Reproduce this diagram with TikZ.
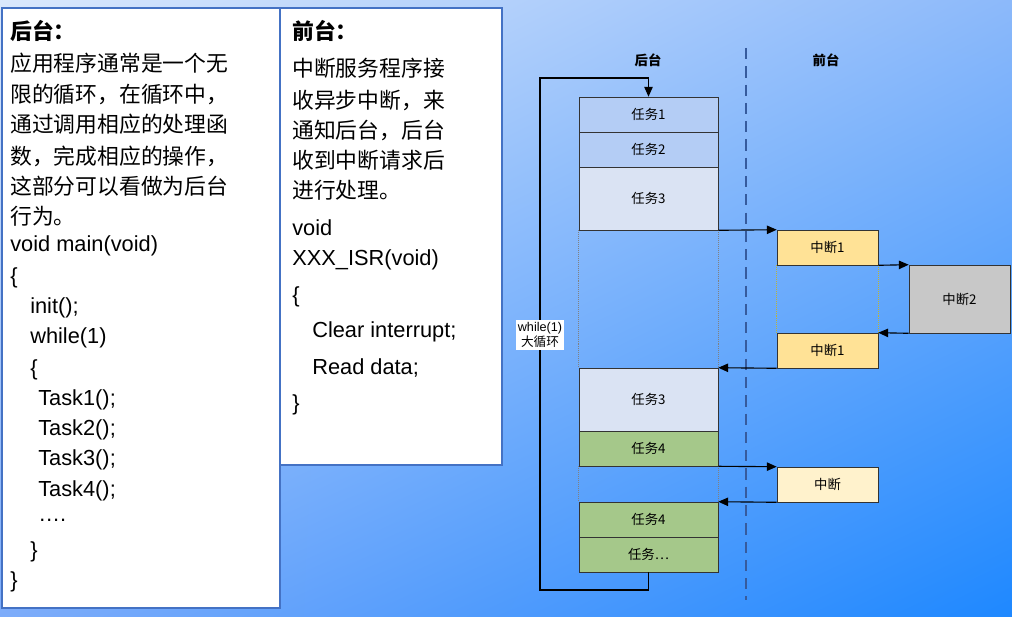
\documentclass[tikz,border=0pt]{standalone}
\usepackage{fontspec}
\setmainfont{Liberation Sans}
\newfontfamily\cjk{Noto Sans CJK SC}
\usetikzlibrary{arrows.meta,shadings}
\definecolor{frameblue}{RGB}{68,114,196}
\definecolor{taskblue}{RGB}{180,205,245}
\definecolor{taskgray}{RGB}{218,227,243}
\definecolor{taskgreen}{RGB}{165,200,138}
\definecolor{irqyellow}{RGB}{255,226,150}
\definecolor{irqlight}{RGB}{255,242,204}
\definecolor{irqgray}{RGB}{200,200,200}
\definecolor{bgUL}{RGB}{218,232,252}
\definecolor{bgUR}{RGB}{140,185,250}
\definecolor{bgLL}{RGB}{125,172,250}
\definecolor{bgLR}{RGB}{30,136,255}
\tikzset{
  px/.style={x=0.025cm,y=-0.025cm},
  txt/.style={anchor=west,inner sep=0pt,font=\fontsize{15.5}{17}\selectfont},
  blk/.style={draw=black!80,thin,inner sep=0pt,minimum width=3.475cm,
    font=\cjk\fontsize{9.5}{11}\selectfont},
  irq/.style={blk,minimum width=2.525cm},
  arr/.style={-{Triangle[length=7pt,width=6pt]},thick},
  gap/.style={densely dotted,thin,black!50}
}
\begin{document}
\begin{tikzpicture}[px]
  % background
  \shade[upper left=bgUL,upper right=bgUR,lower left=bgLL,lower right=bgLR]
    (0,0) rectangle (1012,617);
  \useasboundingbox (0,0) rectangle (1012,617);

  % text panels
  \draw[frameblue,fill=white,line width=1.2pt] (2,8) rectangle (280,608);
  \draw[frameblue,fill=white,line width=1.2pt] (280,8) rectangle (502,465);

  \node[txt] (bgtitle) at (10,31) {\cjk\bfseries 后台：};
  \node[txt] at (10,63) {\cjk 应用程序通常是一个无};
  \node[txt] at (10,94) {\cjk 限的循环，在循环中，};
  \node[txt] at (10,124) {\cjk 通过调用相应的处理函};
  \node[txt] at (10,156) {\cjk 数，完成相应的操作，};
  \node[txt] at (10,186) {\cjk 这部分可以看做为后台};
  \node[txt] at (10,216) {\cjk 行为。};
  \node[txt] at (10,246) {void main(void)};
  \node[txt] at (10,278) {\{};
  \node[txt] at (30,308) {init();};
  \node[txt] at (30,338) {while(1)};
  \node[txt] at (30,370) {\{};
  \node[txt] at (38,400) {Task1();};
  \node[txt] at (38,430) {Task2();};
  \node[txt] at (38,460) {Task3();};
  \node[txt] at (38,491) {Task4();};
  \node[txt] at (38,520) {\dots.};
  \node[txt] at (30,552) {\}};
  \node[txt] at (10,582) {\}};

  \node[txt] (fgtitle) at (292,31) {\cjk\bfseries 前台：};
  \node[txt] at (292,68) {\cjk 中断服务程序接};
  \node[txt] at (292,100) {\cjk 收异步中断，来};
  \node[txt] at (292,130) {\cjk 通知后台，后台};
  \node[txt] at (292,160) {\cjk 收到中断请求后};
  \node[txt] at (292,190) {\cjk 进行处理。};
  \node[txt] at (292,228) {void};
  \node[txt] at (292,260) {XXX\_ISR(void)};
  \node[txt] at (292,297) {\{};
  \node[txt] at (312,332) {Clear interrupt;};
  \node[txt] at (312,368) {Read data;};
  \node[txt] at (292,405) {\}};

  % diagram
  \node[font=\cjk\bfseries\fontsize{9.5}{11}\selectfont] (bghead) at (648,60) {后台};
  \node[font=\cjk\bfseries\fontsize{9.5}{11}\selectfont] (fghead) at (826,60) {前台};
  \draw[frameblue!80!black,thick,dash pattern=on 8pt off 5pt] (746,48) -- (746,600);

  \node[blk,fill=taskblue,minimum height=0.875cm] (t1) at (648.5,114.5) {任务1};
  \node[blk,fill=taskblue,minimum height=0.875cm] (t2) at (648.5,149.5) {任务2};
  \node[blk,fill=taskgray,minimum height=1.575cm] (t3a) at (648.5,198.5) {任务3};
  \node[blk,fill=taskgray,minimum height=1.575cm] (t3b) at (648.5,399.5) {任务3};
  \node[blk,fill=taskgreen,minimum height=0.875cm] (t4a) at (648.5,448.5) {任务4};
  \node[blk,fill=taskgreen,minimum height=0.875cm] (t4b) at (648.5,519.5) {任务4};
  \node[blk,fill=taskgreen,minimum height=0.875cm] (tn) at (648.5,554.5) {任务\dots};

  \node[irq,fill=irqyellow,minimum height=0.875cm] (i1a) at (827.5,247.5) {中断1};
  \node[irq,fill=irqgray,minimum height=1.7cm] (i2) at (959.5,299) {中断2};
  \node[irq,fill=irqyellow,minimum height=0.875cm] (i1b) at (827.5,350.5) {中断1};
  \node[irq,fill=irqlight,minimum height=0.875cm] (ia) at (827.5,484.5) {中断};

  % idle gaps
  \draw[gap] (t3a.south west) -- (t3b.north west);
  \draw[gap] (t3a.south east) -- (t3b.north east);
  \draw[gap] (t4a.south west) -- (t4b.north west);
  \draw[gap] (t4a.south east) -- (t4b.north east);
  \draw[gap,yellow!70!black] (i1a.south west) -- (i1b.north west);
  \draw[gap,yellow!70!black] (i1a.south east) -- (i1b.north east);

  % switches
  \draw[arr] (t3a.south east) -- (i1a.north west);
  \draw[arr] (i1a.south east) -- (i2.north west);
  \draw[arr] (i2.south west) -- (i1b.north east);
  \draw[arr] (i1b.south west) -- (t3b.north east);
  \draw[arr] (t4a.south east) -- (ia.north west);
  \draw[arr] (ia.south west) -- (t4b.north east);

  % main loop
  \coordinate (lpbot) at (540,590);
  \coordinate (lptop) at (540,78);
  \draw[arr] (tn.south) -- (tn.south |- lpbot) -- (lpbot) -- (lptop)
    -- (t1.north |- lptop) -- (t1.north);
  \node[fill=white,inner sep=1.5pt,align=center,
    font=\fontsize{9}{11}\selectfont] (loop) at (540,335)
    {while(1)\\\cjk 大循环};
\end{tikzpicture}
\end{document}
